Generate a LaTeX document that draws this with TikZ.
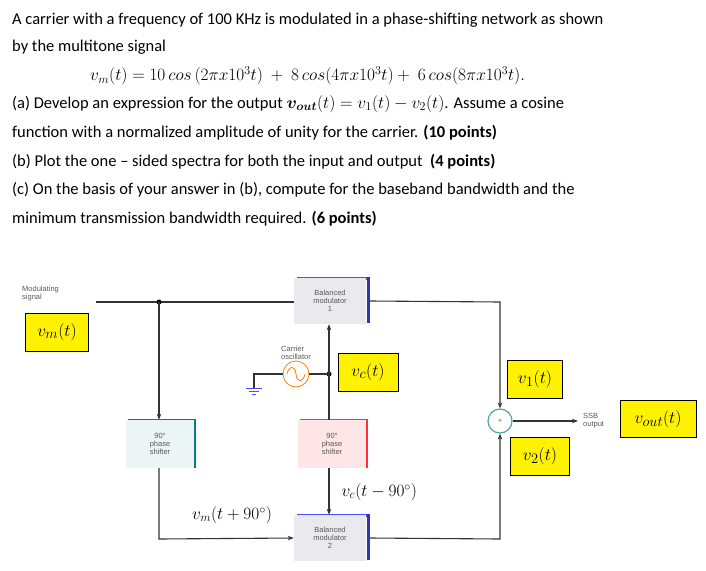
\documentclass[tikz,border=0pt]{standalone}
\usepackage{amsmath}
\usepackage{fontspec}
\setmainfont{Carlito}
\setsansfont{Liberation Sans}
\usetikzlibrary{arrows.meta}
\begin{document}
\begin{tikzpicture}[x=1pt,y=-1pt,
  txt/.style={anchor=west,inner sep=0pt,font=\fontsize{16.5}{18}\selectfont},
  blk/.style={draw=none,minimum width=74pt,minimum height=46pt,align=center,inner sep=0pt,font=\sffamily\fontsize{7.5}{8}\selectfont\color{gray!70!black}},
  ylw/.style={draw=black,fill=yellow,inner sep=2pt,font=\fontsize{19}{21}\selectfont},
  wire/.style={draw=black!80,line width=1.1pt},
  arr/.style={wire,-{Stealth[length=6pt]}},
  small/.style={font=\sffamily\fontsize{7.5}{8}\selectfont\color{gray!70!black},align=left,inner sep=0pt}]
\useasboundingbox (0,0) rectangle (706,570);
% text
\node[txt] (l1) at (12,20) {A carrier with a frequency of 100 KHz is modulated in a phase-shifting network as shown};
\node[txt] (l2) at (12,47) {by the multitone signal};
\node[txt,font=\fontsize{18}{20}\selectfont] (eq) at (90,76) {$v_m(t) = 10\,cos\,(2\pi x10^3t)\ +\ 8\,cos(4\pi x10^3t) +\ 6\,cos(8\pi x10^3t).$};
\node[txt] (l3) at (12,104) {(a) Develop an expression for the output $\boldsymbol{v_{out}}(t) = v_1(t) - v_2(t)$. Assume a cosine};
\node[txt] (l4) at (12,133) {function with a normalized amplitude of unity for the carrier. \textbf{(10 points)}};
\node[txt] (l5) at (12,162) {(b) Plot the one -- sided spectra for both the input and output \ \textbf{(4 points)}};
\node[txt] (l6) at (12,190) {(c) On the basis of your answer in (b), compute for the baseband bandwidth and the};
\node[txt] (l7) at (12,219) {minimum transmission bandwidth required. \textbf{(6 points)}};
% blocks
\fill[blue!70] (297,277) rectangle (370,280);
\fill[blue!60!black!80] (367,277) rectangle (370,323);
\node[blk,fill=blue!10!gray!15,minimum width=72pt] (bm1) at (330,301) {Balanced\\modulator\\1};
\fill[blue!70] (297,514) rectangle (370,517);
\fill[blue!60!black!80] (367,514) rectangle (370,560);
\node[blk,fill=blue!10!gray!15,minimum width=72pt] (bm2) at (330,538) {Balanced\\modulator\\2};
\fill[teal] (128,419) rectangle (196,422);
\fill[teal] (193,419) rectangle (196,468);
\node[blk,fill=teal!8,minimum width=68pt,minimum height=48pt] (ps1) at (160,444) {90\textdegree\\phase\\shifter};
\fill[red!80] (300,419) rectangle (368,422);
\fill[red!80] (365,419) rectangle (368,468);
\node[blk,fill=red!10,minimum width=68pt,minimum height=48pt] (ps2) at (332,444) {90\textdegree\\phase\\shifter};
% oscillator
\node[circle,draw=orange,line width=0.8pt,minimum size=26pt,inner sep=0pt] (osc) at (296,374) {};
\draw[orange,line width=0.8pt] (287,374) .. controls (289,365) and (295,365) .. (296,374) .. controls (297,383) and (303,383) .. (305,374);
\node[small,anchor=south] (co) at (296,360) {Carrier\\oscillator};
\coordinate (gnd) at (254,388);
\draw[wire] (osc.west) -- (254,374) -- (gnd);
\draw[blue!70,line width=1pt] (246,388) -- (262,388) (249,391) -- (259,391) (252,394) -- (256,394);
\coordinate (jc) at (329,374);
\fill (jc) circle (2.5pt);
\draw[wire] (osc.east) -- (jc);
\draw[arr] (ps2.north -| jc) -- (bm1.south -| jc);
\draw[arr] (ps2.south -| jc) -- (bm2.north -| jc);
% modulating
\node[small,anchor=north west] (ms) at (22,286) {Modulating\\signal};
\coordinate (min) at (96,302);
\coordinate (jm) at (159,302);
\draw[wire] (min) -- (bm1.west |- min);
\fill (jm) circle (2.5pt);
\draw[arr] (jm) -- (ps1.north -| jm);
\draw[arr] (ps1.south -| jm) -- (159,539) -- (bm2.west);
% sum
\node[circle,draw=teal!70,line width=1.2pt,minimum size=24pt,inner sep=0pt,font=\small\color{gray}] (sum) at (500,421) {+};
\draw[arr] (bm1.east) ++(4,0) -- (500,302) -- (sum.north);
\draw[arr] (bm2.east) ++(4,0) -- (500,539) -- (sum.south);
\coordinate (outp) at (578,421);
\draw[arr] (sum.east) -- (outp);
\node[small,anchor=west] (ssb) at (583,421) {SSB\\output};
% yellow labels
\node[ylw,minimum width=63pt,minimum height=38pt] (yvm) at (57,332) {$v_m(t)$};
\node[ylw,minimum width=60pt,minimum height=38pt] (yvc) at (368,372) {$v_c(t)$};
\node[ylw,minimum width=55pt,minimum height=38pt] (yv1) at (535,379) {$v_1(t)$};
\node[ylw,minimum width=59pt,minimum height=38pt] (yv2) at (540,456) {$v_2(t)$};
\node[ylw,minimum width=76pt,minimum height=37pt] (yvo) at (658,419) {$v_{out}(t)$};
\node[font=\fontsize{18}{20}\selectfont,anchor=west] (vct) at (338,492) {$v_c(t-90^\circ)$};
\node[font=\fontsize{18}{20}\selectfont] (vmt) at (232,515) {$v_m(t+90^\circ)$};
\end{tikzpicture}
\end{document}
